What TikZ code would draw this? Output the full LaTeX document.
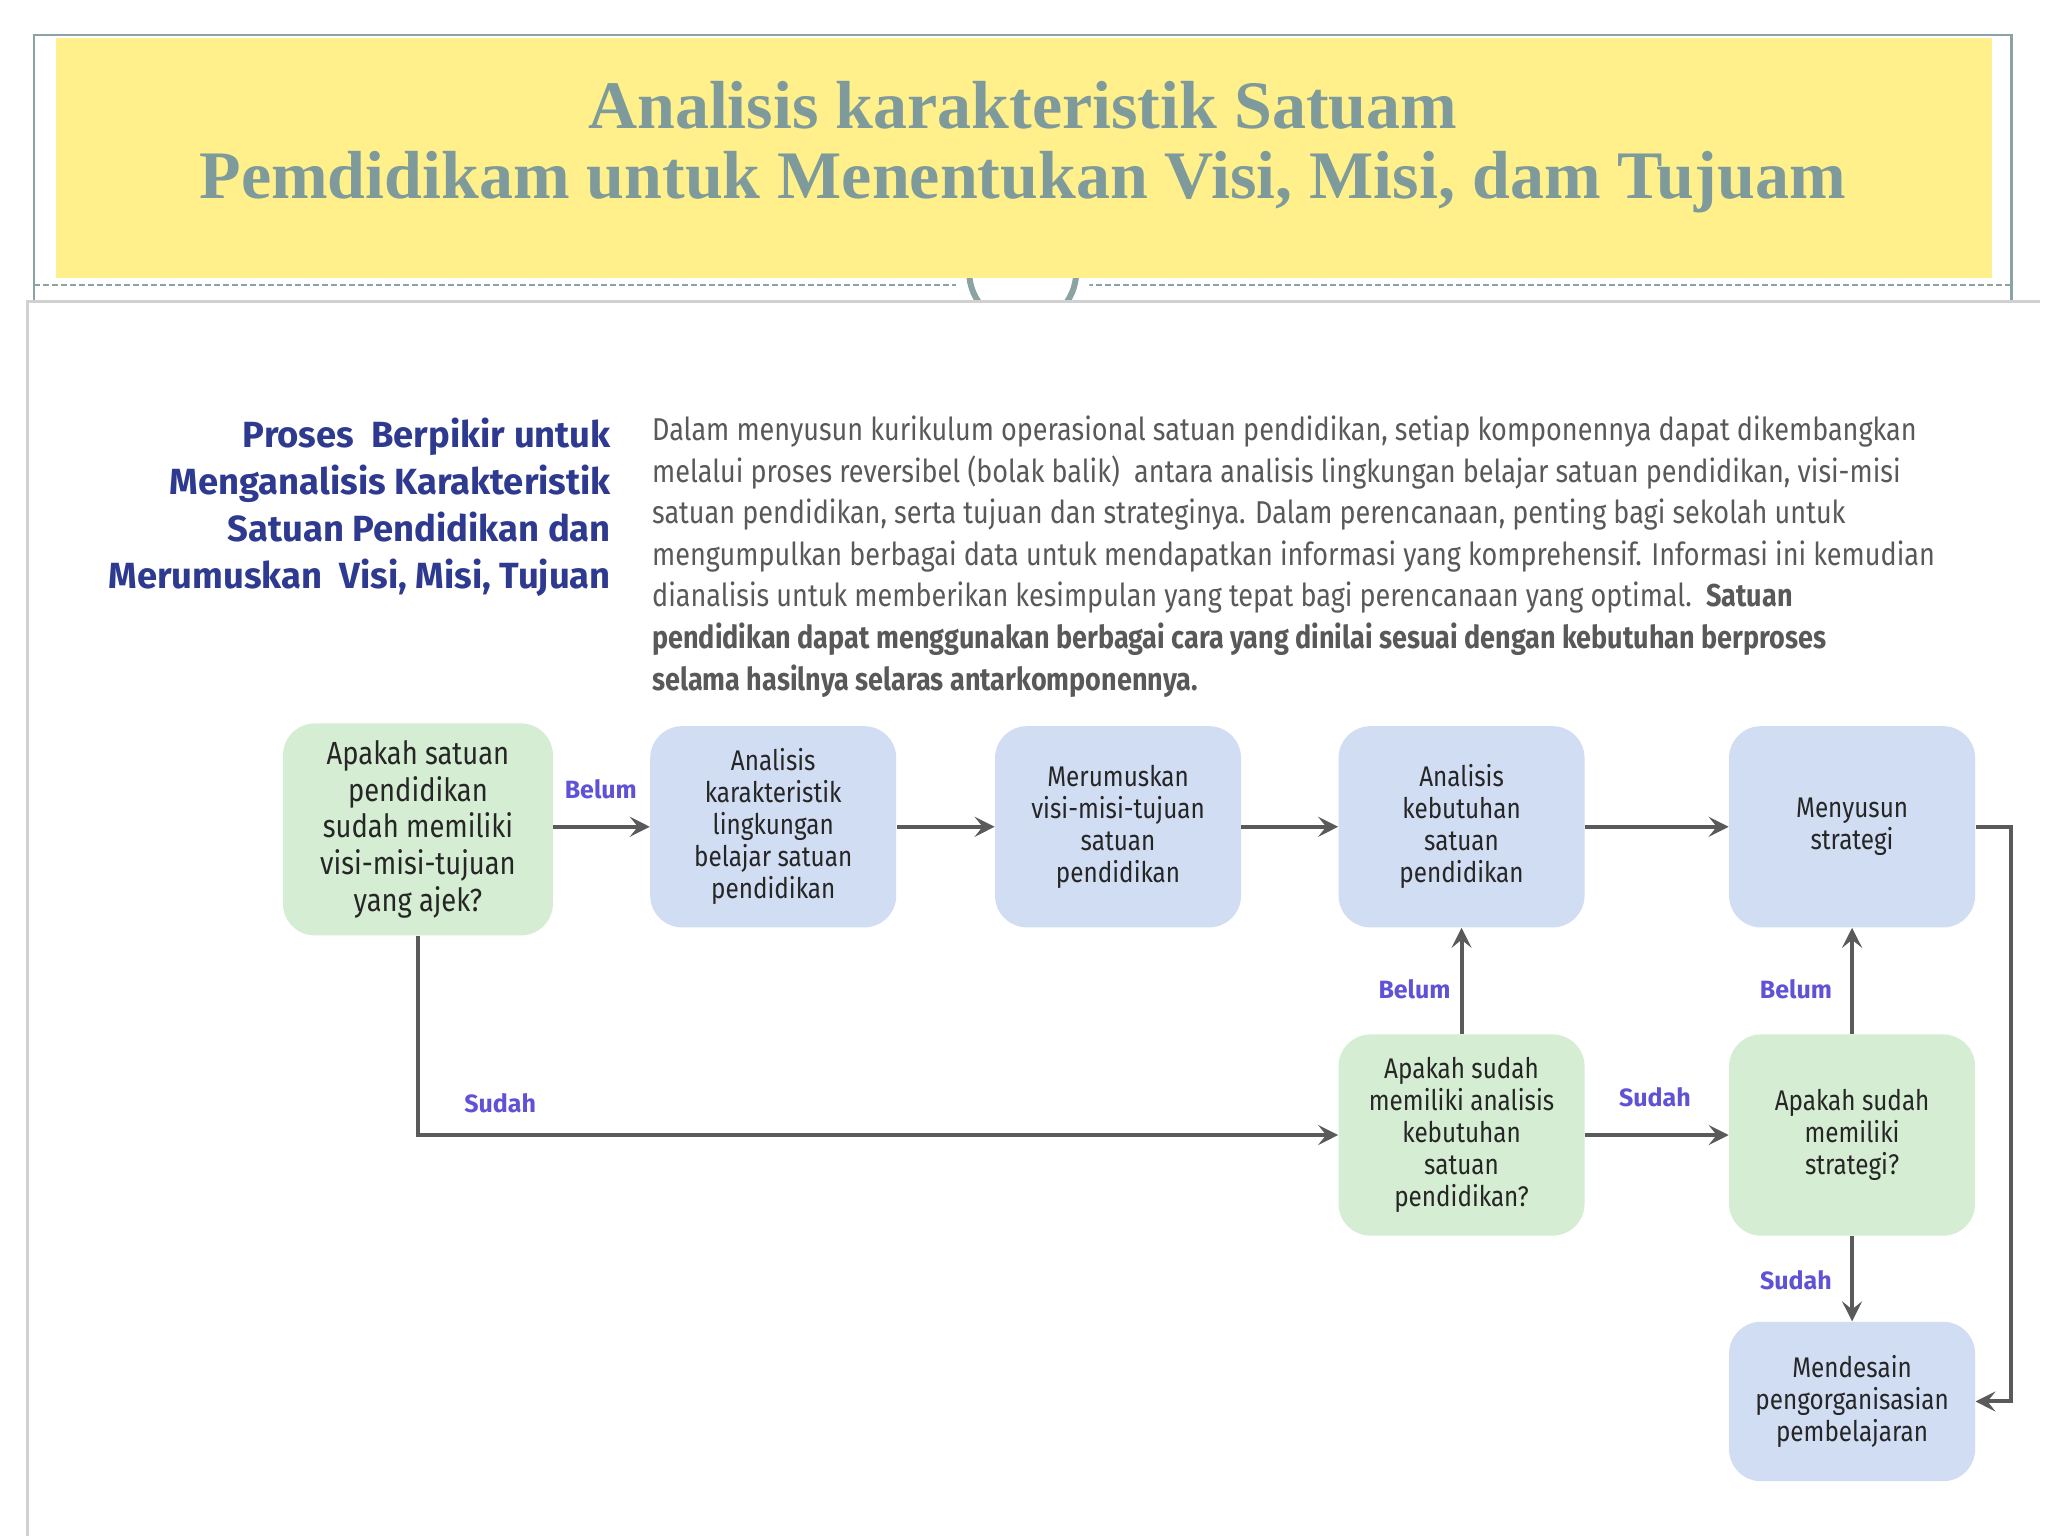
\documentclass[tikz,border=0pt]{standalone}
\usepackage{fontspec}
\setmainfont{Fira Sans}
\newfontfamily\titlefont{Liberation Serif}
\newfontfamily\condfont[FakeStretch=0.855]{Fira Sans}
\usetikzlibrary{arrows.meta}

\definecolor{frameteal}{HTML}{8CA3A3}
\definecolor{titleteal}{HTML}{7F9A9A}
\definecolor{bannerylw}{HTML}{FFF08C}
\definecolor{headnavy}{HTML}{2E3A8F}
\definecolor{bodygray}{HTML}{595959}
\definecolor{qgreen}{HTML}{D5EDD3}
\definecolor{sblue}{HTML}{D0DDF3}
\definecolor{arrowgray}{HTML}{5A5A5A}
\definecolor{lblviolet}{HTML}{5F52D6}

\tikzset{
  qbox/.style={fill=qgreen, rounded corners=16pt, align=center, minimum width=123pt, minimum height=100.6pt, inner sep=2pt, text=black!85, font=\condfont\fontsize{14.2}{16}\selectfont},
  sbox/.style={qbox, fill=sblue},
  flow/.style={arrowgray, line width=2pt, -{Stealth[length=10pt, width=10pt, inset=4pt]}},
  answer/.style={lblviolet, font=\bfseries\fontsize{12.5}{15}\selectfont},
}

\begin{document}
\begin{tikzpicture}[x=0.653pt, y=-0.653pt]
  \useasboundingbox (0,0) rectangle (1568,1176);
  \fill[white] (0,0) rectangle (1568,1176);

  % --- BANNER ---
  \draw[frameteal, line width=1.2pt] (26,231) -- (26,27) -- (1540,27) -- (1540,231);
  \draw[frameteal, line width=0.9pt, dash pattern=on 3pt off 1.5pt] (26,218) -- (1540,218);
  \fill[white] (783,208) circle (52);
  \draw[frameteal, line width=3pt] (783,208) circle (41);
  \fill[bannerylw] (43,29) rectangle (1525,213);
  \node (title1) [titleteal, anchor=base, font=\titlefont\bfseries\fontsize{34}{36}\selectfont] at (783,98) {Analisis karakteristik Satuam};
  \node (title2) [titleteal, anchor=base, font=\titlefont\bfseries\fontsize{34}{36}\selectfont] at (783,152) {Pemdidikam untuk Menentukan Visi, Misi, dam Tujuam};

  % --- CONTENT PANEL ---
  \fill[white] (21,231) rectangle (1568,1176);
  \draw[black!18, line width=1.5pt] (21,1176) -- (21,231) -- (1562,231);

  % Heading and paragraph
  \node (heading) [headnavy, anchor=north east, align=right, inner sep=0pt, font=\bfseries\fontsize{18.2}{23.5}\selectfont] at (468,320)
    {Proses\ \ Berpikir untuk\\ Menganalisis Karakteristik\\ Satuan Pendidikan dan\\ Merumuskan\ \ Visi, Misi, Tujuan};
  \node (intro) [bodygray, anchor=north west, align=left, inner sep=0pt, font=\condfont\fontsize{15.8}{20.8}\selectfont] at (499,318)
    {Dalam menyusun kurikulum operasional satuan pendidikan, setiap komponennya dapat dikembangkan\\
     melalui proses reversibel (bolak balik)\ \ antara analisis lingkungan belajar satuan pendidikan, visi-misi\\
     satuan pendidikan, serta tujuan dan strateginya. Dalam perencanaan, penting bagi sekolah untuk\\
     mengumpulkan berbagai data untuk mendapatkan informasi yang komprehensif. Informasi ini kemudian\\
     dianalisis untuk memberikan kesimpulan yang tepat bagi perencanaan yang optimal.\ \ \textbf{Satuan}\\
     \textbf{pendidikan dapat menggunakan berbagai cara yang dinilai sesuai dengan kebutuhan berproses}\\
     \textbf{selama hasilnya selaras antarkomponennya.}};

  % --- FLOW BOXES ---
  \node (askvmt) [qbox, minimum width=135pt, minimum height=106pt, font=\condfont\fontsize{16}{18.3}\selectfont] at (320,635)
    {Apakah satuan\\ pendidikan\\ sudah memiliki\\ visi-misi-tujuan\\ yang ajek?};
  \node (envan) [sbox] at (592,633) {Analisis\\ karakteristik\\ lingkungan\\ belajar satuan\\ pendidikan};
  \node (vmt) [sbox] at (856,633) {Merumuskan\\ visi-misi-tujuan\\ satuan\\ pendidikan};
  \node (needan) [sbox] at (1119,633) {Analisis\\ kebutuhan\\ satuan\\ pendidikan};
  \node (strat) [sbox] at (1418,633) {Menyusun\\ strategi};
  \node (askneed) [qbox] at (1119,869) {Apakah sudah\\ memiliki analisis\\ kebutuhan\\ satuan\\ pendidikan?};
  \node (askstrat) [qbox] at (1418,869) {Apakah sudah\\ memiliki\\ strategi?};
  \node (design) [sbox, minimum height=79.7pt] at (1418,1073) {Mendesain\\ pengorganisasian\\ pembelajaran};

  % --- CONNECTORS ---
  \coordinate (rside) at (1540,633);
  \draw[flow] (askvmt.east |- envan.west) -- (envan.west);
  \draw[flow] (envan) -- (vmt);
  \draw[flow] (vmt) -- (needan);
  \draw[flow] (needan) -- (strat);
  \draw[flow] (strat.east) -- (rside) |- (design.east);
  \draw[flow] (askvmt.south) |- (askneed.west);
  \draw[flow] (askneed) -- (needan);
  \draw[flow] (askneed) -- (askstrat);
  \draw[flow] (askstrat) -- (strat);
  \draw[flow] (askstrat) -- (design);

  % Answers
  \node (ansA) [answer] at (460,604) {Belum};
  \node (ansB) [answer] at (383,845) {Sudah};
  \node (ansC) [answer] at (1083,757) {Belum};
  \node (ansD) [answer] at (1267,840) {Sudah};
  \node (ansE) [answer] at (1375,757) {Belum};
  \node (ansF) [answer] at (1375,980) {Sudah};
\end{tikzpicture}
\end{document}
